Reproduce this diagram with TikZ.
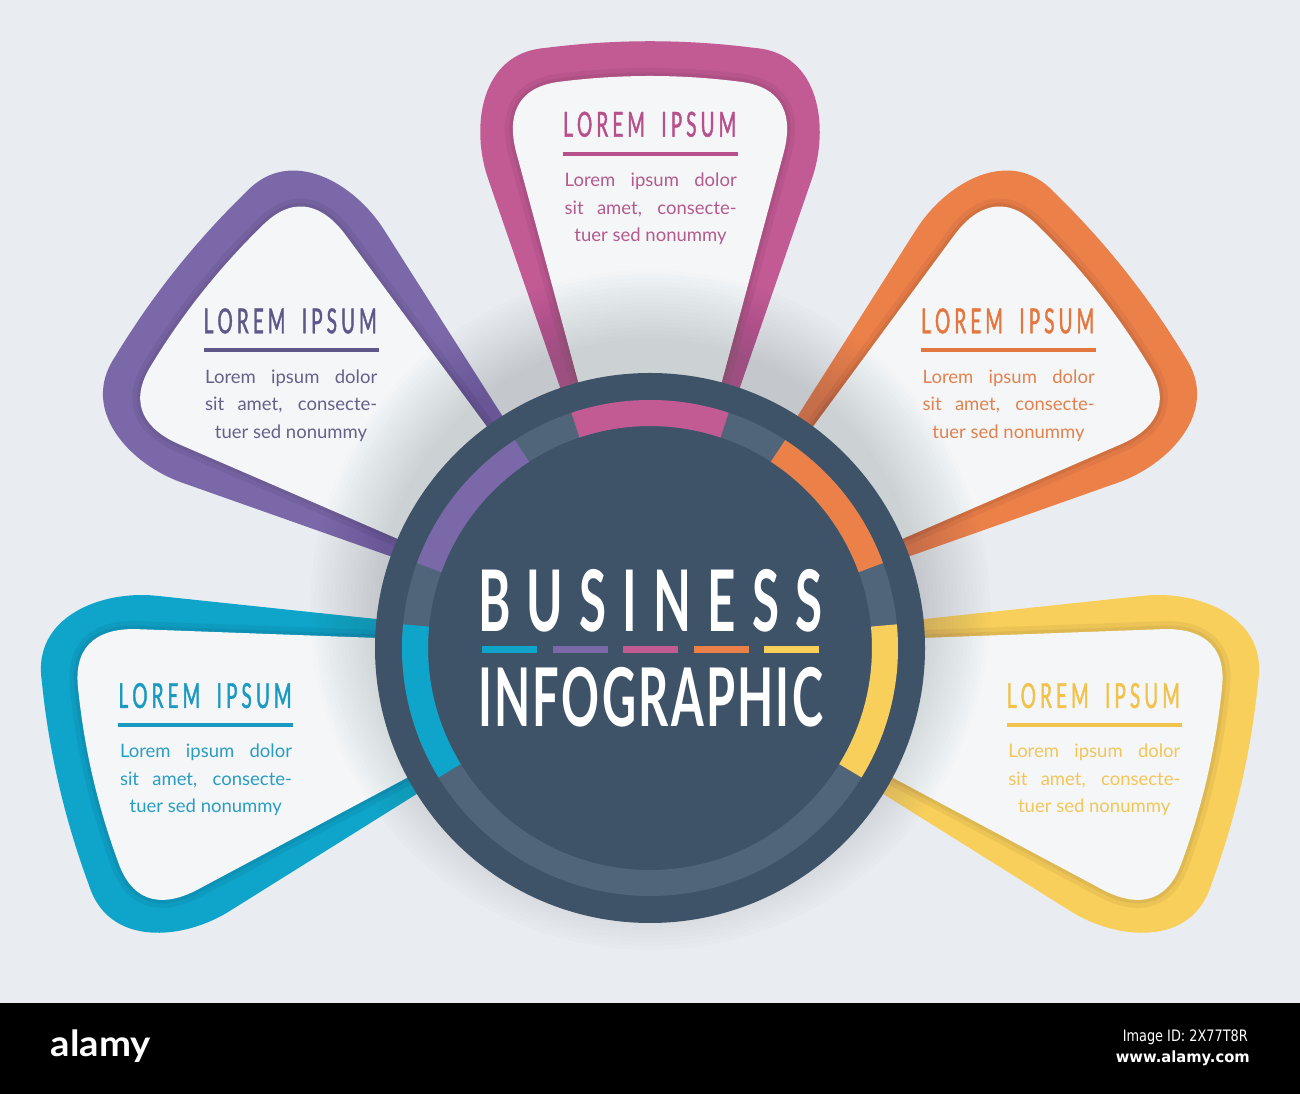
\documentclass[tikz,border=0pt]{standalone}
\usepackage{fontspec}
\setmainfont{Lato}
\newfontfamily\condfont[FakeStretch=0.58]{Lato}
\newfontfamily\smallcond[FakeStretch=0.55,FakeBold=1.2]{Lato}
\newfontfamily\dvfont{DejaVu Sans}
\usetikzlibrary{calc}

\definecolor{bg}{HTML}{E9ECF0}
\definecolor{panel}{HTML}{F5F6F8}
\definecolor{disc}{HTML}{3E5368}
\definecolor{ringgray}{HTML}{506579}
\definecolor{shadowc}{HTML}{3E4F66}
\definecolor{cyc}{HTML}{0FA4CA}
\definecolor{puc}{HTML}{7A68A9}
\definecolor{pkc}{HTML}{C25A94}
\definecolor{orc}{HTML}{EC8049}
\definecolor{yec}{HTML}{F9CF5B}
\definecolor{cyT}{HTML}{1A9AC1}
\definecolor{puT}{HTML}{5F5789}
\definecolor{pkT}{HTML}{B8508C}
\definecolor{orT}{HTML}{E4773F}
\definecolor{yeT}{HTML}{F1C24C}
\definecolor{cyB}{HTML}{2A9DC2}
\definecolor{puB}{HTML}{676089}
\definecolor{pkB}{HTML}{B45B8E}
\definecolor{orB}{HTML}{E2824F}
\definecolor{yeB}{HTML}{F2C659}

\def\innerpath{(150,-40.5) -- (495,-133.6) .. controls (530,-143) and (560,-135) .. (566,-92) .. controls (574,-30) and (574,30) .. (566,92) .. controls (560,135) and (530,143) .. (495,133.6) -- (150,40.5) -- cycle}
\def\outerpath{(150,-51.75) -- (468,-161.5) .. controls (520,-180) and (595,-170) .. (600,-105) .. controls (609,-35) and (609,35) .. (600,105) .. controls (595,170) and (520,180) .. (468,161.5) -- (150,51.75) -- cycle}

\newcommand\petal[2]{%
  \begin{scope}[shift={(650,446)},rotate=#1]
    \fill[#2] \outerpath;
    \draw[#2!60!black, opacity=0.12, line width=16pt] \innerpath;
    \draw[#2!60!black, opacity=0.16, line width=7pt] \innerpath;
    \fill[panel] \innerpath;
  \end{scope}}

\newcommand\bodytext{\fontsize{18.5}{20}\selectfont}
\newcommand\ptext[5]{%
  \node[anchor=base west, inner sep=0pt, text=#4] (#1-title) at (#2,#3)
    {\smallcond\fontsize{34.5}{34.5}\selectfont\makebox[173pt][s]{L\hfil O\hfil R\hfil E\hfil M\hskip 0pt plus 4fil I\hfil P\hfil S\hfil U\hfil M}};
  \fill[#4] (#2,#3-15) rectangle ++(175,-4);
  \node[anchor=base west, inner sep=0pt, text=#5] (#1-l1) at (#2+1.5,#3-50)
    {\bodytext\makebox[172pt][s]{Lorem ipsum dolor}};
  \node[anchor=base west, inner sep=0pt, text=#5] (#1-l2) at (#2+1.5,#3-77.5)
    {\bodytext\makebox[172pt][s]{sit amet, consecte-}};
  \node[anchor=base, inner sep=0pt, text=#5] (#1-l3) at (#2+87.5,#3-105)
    {\bodytext tuer sed nonummy};
}
\newcommand\seg[2]{\draw[#2, line width=26pt] ([shift={(#1-18.5:235)}]C) arc[start angle=#1-18.5, end angle=#1+18.5, radius=235];}

\begin{document}
\begin{tikzpicture}[x=1pt,y=1pt]
\useasboundingbox (0,0) rectangle (1300,1094);
\fill[bg] (0,91) rectangle (1300,1094);
\fill[black] (0,0) rectangle (1300,91);
\coordinate (C) at (650,446);

% petals
\petal{193}{cyc}
\petal{141.5}{puc}
\petal{90}{pkc}
\petal{38.5}{orc}
\petal{-13}{yec}

% soft shadow of the disc
\foreach \r in {272,276,...,340} \fill[shadowc, opacity=0.013] (650,484) circle (\r);

% petal texts
\ptext{pink}{563}{957.3}{pkT}{pkB}
\ptext{purple}{203.5}{760.7}{puT}{puB}
\ptext{orange}{921}{760.7}{orT}{orB}
\ptext{cyan}{118.3}{386}{cyT}{cyB}
\ptext{yellow}{1006.7}{386}{yeT}{yeB}

% central disc
\fill[disc] (C) circle (275);
\draw[ringgray, line width=26pt] (C) circle (235);
\seg{193}{cyc}
\seg{141.5}{puc}
\seg{90}{pkc}
\seg{38.5}{orc}
\seg{-13}{yec}

\node[anchor=base west, inner sep=0pt, text=white] (business) at (478,462.3)
  {\condfont\bfseries\fontsize{85}{85}\selectfont\makebox[344pt][s]{B\hfil U\hfil S\hfil I\hfil N\hfil E\hfil S\hfil S}};
\fill[cyc] (482,441) rectangle (537,448);
\fill[puc] (552.5,441) rectangle (607.5,448);
\fill[pkc] (623,441) rectangle (678,448);
\fill[orc] (693.5,441) rectangle (748.5,448);
\fill[yec] (764,441) rectangle (819,448);
\node[anchor=base west, inner sep=0pt, text=white] (infographic) at (478,367)
  {\condfont\bfseries\fontsize{81}{81}\selectfont\makebox[345pt][s]{I\hfil N\hfil F\hfil O\hfil G\hfil R\hfil A\hfil P\hfil H\hfil I\hfil C}};

% bottom band
\node[anchor=base west, inner sep=0pt, text=white] (logo) at (50.7,37.3)
  {\resizebox{100pt}{26.7pt}{\condfont\bfseries alamy}};
\node[anchor=base east, inner sep=0pt, text=white] (imgid) at (1248,52.3)
  {\resizebox{125pt}{11.7pt}{\dvfont Image ID: 2X77T8R}};
\node[anchor=base east, inner sep=0pt, text=white] (www) at (1250,31.3)
  {\resizebox{134pt}{11.7pt}{\dvfont\bfseries www.alamy.com}};
\end{tikzpicture}
\end{document}
